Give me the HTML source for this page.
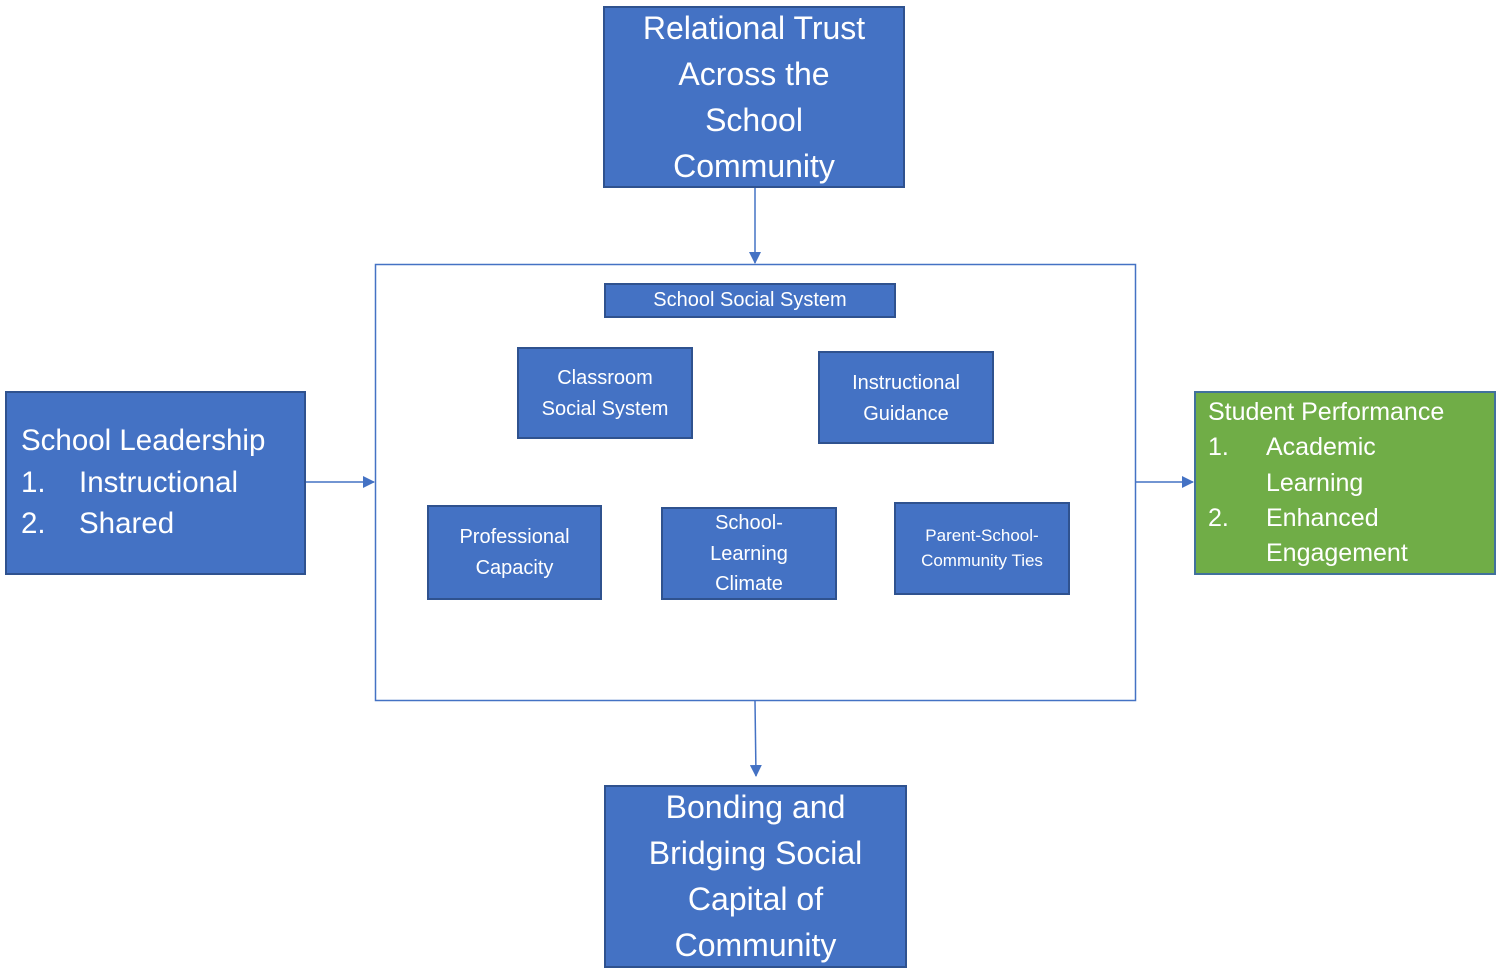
<!DOCTYPE html>
<html><head><style>
body{margin:0;width:1500px;height:972px;background:#fff;position:relative;overflow:hidden;font-family:"Liberation Sans",sans-serif;}
.b{position:absolute;background:#4472C4;border:2px solid #2F528F;box-sizing:border-box;color:#fff;}
.t{position:absolute;left:0;right:0;text-align:center;white-space:nowrap;}
.l{position:absolute;white-space:nowrap;color:#fff;}
</style></head><body>
<svg width="1500" height="972" style="position:absolute;left:0;top:0">
<defs><marker id="a" markerWidth="12" markerHeight="12" refX="11" refY="6" orient="auto" markerUnits="userSpaceOnUse"><path d="M0,0 L12,6 L0,12z" fill="#4472C4"/></marker></defs>
<rect x="375.5" y="264.5" width="760" height="436" fill="none" stroke="#4472C4" stroke-width="1.5"/>
<line x1="755" y1="188" x2="755" y2="263" stroke="#4472C4" stroke-width="1.5" marker-end="url(#a)"/>
<line x1="755" y1="701" x2="756" y2="776" stroke="#4472C4" stroke-width="1.5" marker-end="url(#a)"/>
<line x1="306" y1="482" x2="374" y2="482" stroke="#4472C4" stroke-width="1.5" marker-end="url(#a)"/>
<line x1="1136" y1="482" x2="1193" y2="482" stroke="#4472C4" stroke-width="1.5" marker-end="url(#a)"/>
</svg>

<div class="b" style="left:603px;top:6px;width:302px;height:182px;font-size:32px;">
<div class="t" style="top:2px">Relational Trust</div>
<div class="t" style="top:48px">Across the</div>
<div class="t" style="top:94px">School</div>
<div class="t" style="top:140px">Community</div>
</div>

<div class="b" style="left:604px;top:283px;width:292px;height:35px;font-size:20px;">
<div class="t" style="top:4px">School Social System</div></div>

<div class="b" style="left:517px;top:347px;width:176px;height:92px;font-size:20px;">
<div class="t" style="top:18px">Classroom</div><div class="t" style="top:49px">Social System</div></div>

<div class="b" style="left:818px;top:351px;width:176px;height:93px;font-size:20px;">
<div class="t" style="top:19px">Instructional</div><div class="t" style="top:50px">Guidance</div></div>

<div class="b" style="left:427px;top:505px;width:175px;height:95px;font-size:20px;">
<div class="t" style="top:19px">Professional</div><div class="t" style="top:50px">Capacity</div></div>

<div class="b" style="left:661px;top:507px;width:176px;height:93px;font-size:20px;">
<div class="t" style="top:3px">School-</div><div class="t" style="top:34px">Learning</div><div class="t" style="top:64px">Climate</div></div>

<div class="b" style="left:894px;top:502px;width:176px;height:93px;font-size:17px;">
<div class="t" style="top:22px">Parent-School-</div><div class="t" style="top:47px">Community Ties</div></div>

<div class="b" style="left:5px;top:391px;width:301px;height:184px;font-size:29.5px;">
<div class="l" style="left:14px;top:31px">School Leadership</div>
<div class="l" style="left:14px;top:73px">1.</div><div class="l" style="left:72px;top:73px">Instructional</div>
<div class="l" style="left:14px;top:114px">2.</div><div class="l" style="left:72px;top:114px">Shared</div>
</div>

<div class="b" style="left:1194px;top:391px;width:302px;height:184px;background:#70AD47;border-color:#41719C;font-size:25px;">
<div class="l" style="left:12px;top:5px">Student Performance</div>
<div class="l" style="left:12px;top:40px">1.</div><div class="l" style="left:70px;top:40px">Academic</div>
<div class="l" style="left:70px;top:76px">Learning</div>
<div class="l" style="left:12px;top:111px">2.</div><div class="l" style="left:70px;top:111px">Enhanced</div>
<div class="l" style="left:70px;top:146px">Engagement</div>
</div>

<div class="b" style="left:604px;top:785px;width:303px;height:183px;font-size:32px;">
<div class="t" style="top:2px">Bonding and</div>
<div class="t" style="top:48px">Bridging Social</div>
<div class="t" style="top:94px">Capital of</div>
<div class="t" style="top:140px">Community</div>
</div>
</body></html>
